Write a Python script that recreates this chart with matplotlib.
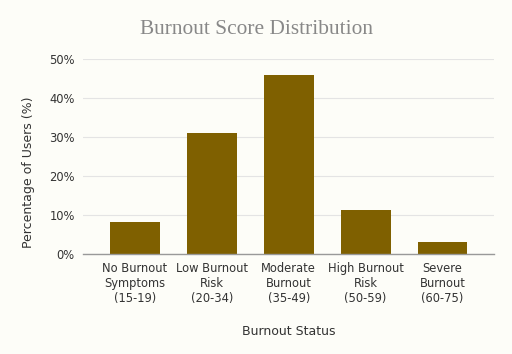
import matplotlib
matplotlib.use('Agg')
import matplotlib.pyplot as plt
import matplotlib.ticker as ticker

# Burnout categories and share of users (%)
categories = ['No Burnout\nSymptoms\n(15-19)', 'Low Burnout\nRisk\n(20-34)',
              'Moderate\nBurnout\n(35-49)', 'High Burnout\nRisk\n(50-59)',
              'Severe\nBurnout\n(60-75)']
percentages = [8.1, 30.9, 45.8, 11.2, 3.2]

BG = '#fdfdf8'
BAR = '#7f6000'

fig = plt.figure(figsize=(5.12, 3.54), dpi=100, facecolor=BG)
ax = fig.add_axes([83 / 512, 1 - 254 / 354, 411 / 512, 195 / 354], facecolor=BG)

x = range(len(categories))
ax.bar(x, percentages, width=0.65, color=BAR, zorder=3)

ax.set_xlim(-0.676, 4.67)
ax.set_ylim(0, 50)
ax.yaxis.set_major_locator(ticker.MultipleLocator(10))
ax.yaxis.set_major_formatter(ticker.FuncFormatter(lambda v, _: '%d%%' % v))
ax.set_xticks(list(x))
ax.set_xticklabels(categories, fontsize=8.3, color='#333333', linespacing=1.2)
ax.tick_params(axis='y', labelsize=8.3, colors='#333333', length=0, pad=6)
ax.tick_params(axis='x', length=0, pad=6)

ax.grid(True, axis='y', color='#e4e4e4', linewidth=0.8, zorder=0)
for side in ['top', 'right', 'left']:
    ax.spines[side].set_visible(False)
ax.spines['bottom'].set_color('#999999')
ax.spines['bottom'].set_linewidth(1.0)
ax.spines['bottom'].set_zorder(4)

ax.set_xlabel('Burnout Status', fontsize=9, color='#333333', labelpad=14)
ax.set_ylabel('Percentage of Users (%)', fontsize=9, color='#333333')
ax.yaxis.set_label_coords(-48 / 411, 0.42)

fig.text(0.5, 1 - 30 / 354, 'Burnout Score Distribution', ha='center', va='center',
         fontsize=15.4, color='#888888', family='Liberation Serif')

fig.savefig('out.png', dpi=100, facecolor=BG)
